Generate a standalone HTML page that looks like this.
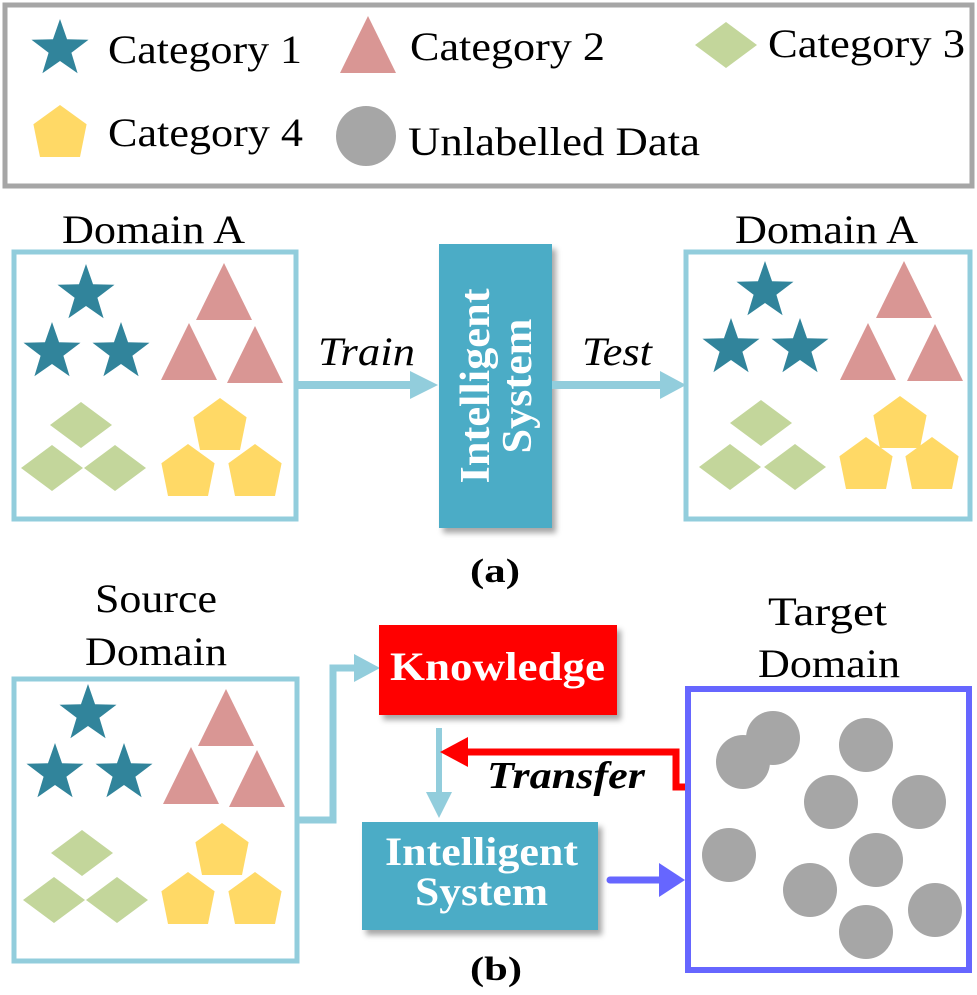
<!DOCTYPE html>
<html><head><meta charset="utf-8"><style>
html,body{margin:0;padding:0;background:#fff}
svg{display:block}
text{font-family:"Liberation Serif",serif}
</style></head><body>
<svg width="977" height="995" viewBox="0 0 977 995" xmlns="http://www.w3.org/2000/svg">
<defs>
<polygon id="st" fill="#31849B" points="0,-30 7.05,-9.7 28.5,-9.3 11.4,3.7 17.6,24.3 0,12 -17.6,24.3 -11.4,3.7 -28.5,-9.3 -7.05,-9.7"/>
<polygon id="tr" fill="#D99694" points="0,-29 28,28 -28,28"/>
<polygon id="dm" fill="#C3D69B" points="0,-23 31,0 0,23 -31,0"/>
<polygon id="pt" fill="#FFD966" points="0,-28 26.6,-8.7 20,24 -20,24 -26.6,-8.7"/>
<filter id="sh" x="-20%" y="-20%" width="150%" height="150%"><feDropShadow dx="4" dy="5" stdDeviation="3" flood-color="#000" flood-opacity="0.35"/></filter>
</defs>

<!-- legend -->
<rect x="5" y="5" width="967" height="181" fill="#fff" stroke="#A6A6A6" stroke-width="5"/>
<use href="#st" x="60" y="49"/>
<text x="108" y="63" font-size="40" textLength="194" lengthAdjust="spacingAndGlyphs">Category 1</text>
<use href="#tr" x="368" y="45"/>
<text x="410" y="60" font-size="40" textLength="195" lengthAdjust="spacingAndGlyphs">Category 2</text>
<use href="#dm" x="726" y="45"/>
<text x="768" y="57" font-size="40" textLength="197" lengthAdjust="spacingAndGlyphs">Category 3</text>
<use href="#pt" x="60" y="133"/>
<text x="108" y="146" font-size="40" textLength="195" lengthAdjust="spacingAndGlyphs">Category 4</text>
<ellipse cx="366" cy="136" rx="30" ry="30" fill="#A6A6A6"/>
<text x="408" y="155" font-size="40" textLength="292" lengthAdjust="spacingAndGlyphs">Unlabelled Data</text>

<!-- (a) -->
<text x="62" y="243" font-size="40" textLength="183" lengthAdjust="spacingAndGlyphs">Domain A</text>
<rect x="14" y="252" width="282" height="267" fill="#fff" stroke="#92CDDC" stroke-width="5"/>
<use href="#st" x="86" y="294"/><use href="#st" x="52" y="352"/><use href="#st" x="121" y="352"/>
<use href="#tr" x="224" y="292"/><use href="#tr" x="189" y="352"/><use href="#tr" x="255" y="355"/>
<use href="#dm" x="81" y="425"/><use href="#dm" x="52" y="468"/><use href="#dm" x="115" y="468"/>
<use href="#pt" x="220" y="426"/><use href="#pt" x="188" y="472"/><use href="#pt" x="255" y="472"/>

<line x1="297" y1="385" x2="412" y2="385" stroke="#92CDDC" stroke-width="8"/>
<polygon points="410,371 438,385 410,399" fill="#92CDDC"/>
<text x="318" y="365" font-size="40" font-style="italic" textLength="97" lengthAdjust="spacingAndGlyphs">Train</text>

<rect x="439" y="244" width="113" height="284" fill="#4BACC6" filter="url(#sh)"/>
<g transform="translate(495,386) rotate(-90)" font-weight="bold" font-size="42" text-anchor="middle">
<text x="0" y="-6" fill="#fff" textLength="195" lengthAdjust="spacingAndGlyphs">Intelligent</text>
<text x="0" y="36" fill="#fff" textLength="135" lengthAdjust="spacingAndGlyphs">System</text>
</g>

<line x1="552" y1="385" x2="662" y2="385" stroke="#92CDDC" stroke-width="8"/>
<polygon points="660,371 686,385 660,399" fill="#92CDDC"/>
<text x="582" y="365" font-size="40" font-style="italic" textLength="70" lengthAdjust="spacingAndGlyphs">Test</text>

<text x="735" y="243" font-size="40" textLength="183" lengthAdjust="spacingAndGlyphs">Domain A</text>
<rect x="686" y="252" width="284" height="267" fill="#fff" stroke="#92CDDC" stroke-width="5"/>
<use href="#st" x="765" y="291"/><use href="#st" x="731" y="348"/><use href="#st" x="800" y="348"/>
<use href="#tr" x="904" y="290"/><use href="#tr" x="868" y="352"/><use href="#tr" x="935" y="353"/>
<use href="#dm" x="761" y="423"/><use href="#dm" x="730" y="467"/><use href="#dm" x="795" y="467"/>
<use href="#pt" x="900" y="424"/><use href="#pt" x="866" y="465"/><use href="#pt" x="932" y="465"/>

<text x="470" y="582" font-size="34" font-weight="bold" textLength="50" lengthAdjust="spacingAndGlyphs">(a)</text>

<!-- (b) -->
<text x="95" y="612" font-size="40" textLength="122" lengthAdjust="spacingAndGlyphs">Source</text>
<text x="85" y="665" font-size="40" textLength="142" lengthAdjust="spacingAndGlyphs">Domain</text>
<rect x="14" y="679" width="283" height="282" fill="#fff" stroke="#92CDDC" stroke-width="5"/>
<use href="#st" x="88" y="714"/><use href="#st" x="55" y="773"/><use href="#st" x="124" y="773"/>
<use href="#tr" x="226" y="718"/><use href="#tr" x="191" y="776"/><use href="#tr" x="257" y="779"/>
<use href="#dm" x="82" y="853"/><use href="#dm" x="54" y="900"/><use href="#dm" x="117" y="900"/>
<use href="#pt" x="222" y="851"/><use href="#pt" x="188" y="900"/><use href="#pt" x="255" y="900"/>

<polyline points="297,820 333,820 333,668 358,668" fill="none" stroke="#92CDDC" stroke-width="7"/>
<polygon points="354,654 380,668 354,682" fill="#92CDDC"/>

<rect x="379" y="625" width="238" height="90" fill="#FF0000" filter="url(#sh)"/>
<text x="390" y="680" font-size="40" font-weight="bold" fill="#fff" textLength="215" lengthAdjust="spacingAndGlyphs">Knowledge</text>

<line x1="439" y1="728" x2="439" y2="795" stroke="#92CDDC" stroke-width="6"/>
<polygon points="426,792 452,792 439,818" fill="#92CDDC"/>

<polyline points="688,787 676,787 676,752 466,752" fill="none" stroke="#FF0000" stroke-width="7"/>
<polygon points="468,737 468,767 440,752" fill="#FF0000"/>
<text x="487" y="788" font-size="38" font-weight="bold" font-style="italic" textLength="158" lengthAdjust="spacingAndGlyphs">Transfer</text>

<rect x="362" y="822" width="236" height="108" fill="#4BACC6" filter="url(#sh)"/>
<text x="385" y="865" font-size="40" font-weight="bold" fill="#fff" textLength="193" lengthAdjust="spacingAndGlyphs">Intelligent</text>
<text x="415" y="905" font-size="40" font-weight="bold" fill="#fff" textLength="133" lengthAdjust="spacingAndGlyphs">System</text>

<line x1="610" y1="880" x2="662" y2="880" stroke="#6666FF" stroke-width="7" stroke-linecap="round"/>
<polygon points="659,863 685,880 659,897" fill="#6666FF"/>

<text x="768" y="625" font-size="40" textLength="119" lengthAdjust="spacingAndGlyphs">Target</text>
<text x="758" y="677" font-size="40" textLength="142" lengthAdjust="spacingAndGlyphs">Domain</text>
<rect x="688" y="689" width="281" height="281" fill="#fff" stroke="#6666FF" stroke-width="6"/>
<g fill="#A6A6A6">
<circle cx="743" cy="762" r="27"/><circle cx="773" cy="738" r="27"/><circle cx="866" cy="745" r="27"/>
<circle cx="831" cy="802" r="27"/><circle cx="919" cy="802" r="27"/><circle cx="729" cy="855" r="27"/>
<circle cx="876" cy="860" r="27"/><circle cx="810" cy="890" r="27"/><circle cx="935" cy="910" r="27"/>
<circle cx="866" cy="932" r="27"/>
</g>

<text x="470" y="980" font-size="34" font-weight="bold" textLength="52" lengthAdjust="spacingAndGlyphs">(b)</text>
</svg>
</body></html>
